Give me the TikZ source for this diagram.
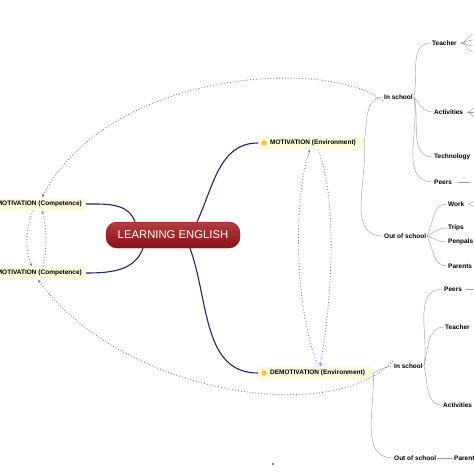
\documentclass[tikz,border=0pt]{standalone}
\usepackage{fontspec}
\setmainfont{Liberation Sans}
\usetikzlibrary{arrows.meta}

\definecolor{rootred}{HTML}{A31C20}
\definecolor{rootdark}{HTML}{8A1014}
\definecolor{branchblue}{HTML}{1E2A60}
\definecolor{relpurple}{HTML}{7C74C0}
\definecolor{topicfill}{HTML}{FDFBDD}
\definecolor{bulbfill}{HTML}{F4C84A}
\definecolor{twiggray}{HTML}{98A0B0}

\begin{document}
\begin{tikzpicture}[
      x=1pt, y=-1pt,
      root/.style={rounded corners=11pt, top color=rootred!85!white, bottom color=rootdark, draw=rootdark,
        text=white, font=\fontsize{11.3}{13}\selectfont, minimum width=134pt, minimum height=26pt, inner sep=0pt},
      topic/.style={fill=topicfill, font=\fontsize{6.5}{7}\selectfont\bfseries, inner xsep=4pt, inner ysep=1pt, minimum height=13pt},
      leaf/.style={font=\fontsize{6.5}{7}\selectfont\bfseries, inner sep=1pt, anchor=west},
      bulb/.style={circle, fill=bulbfill, draw=bulbfill!70!orange, line width=0.3pt, minimum size=5pt, inner sep=0pt},
      branch/.style={branchblue, line width=1.1pt},
      twig/.style={twiggray, line width=0.45pt},
      relation/.style={relpurple, dotted, line width=0.9pt, -{Stealth[length=3.5pt,width=3pt]}}
  ]

  \useasboundingbox (0,0) rectangle (474,474);

  \node [root] (root) at (173,235) {LEARNING ENGLISH}; % root

  \node [topic, anchor=east] (motcomp) at (86,204) {MOTIVATION (Competence)};
  \node [topic, anchor=east] (demotcomp) at (86,273) {DEMOTIVATION (Competence)};
  \node [topic, anchor=west] (motenv) at (258,143) {\hspace*{8pt}MOTIVATION (Environment)\hspace*{4pt}};
  \node [topic, anchor=west] (demotenv) at (258,373) {\hspace*{8pt}DEMOTIVATION (Environment)\hspace*{4pt}};
  \node [bulb] (motbulb) at ([xshift=6pt]motenv.west) {};
  \node [bulb] (demotbulb) at ([xshift=6pt]demotenv.west) {};

  \draw [branch] ([xshift=-38pt]root.north) to[out=110, in=0] (motcomp.east);
  \draw [branch] ([xshift=-30pt]root.south) to[out=-110, in=0] (demotcomp.east);
  \draw [branch] ([xshift=24pt]root.north) to[out=65, in=180] (motenv.west);
  \draw [branch] ([xshift=17pt]root.south) to[out=-70, in=180] (demotenv.west);

  % environment: motivation
  \node [leaf] (insch1) at (383,97) {In school};
  \node [leaf] (teacher1) at (431,43) {Teacher};
  \node [leaf] (activ1) at (433,112) {Activities};
  \node [leaf] (techn1) at (433,157) {Technology};
  \node [leaf] (peers1) at (433,182) {Peers};
  \node [leaf] (outsch1) at (383,236) {Out of school};
  \node [leaf] (work) at (447,204) {Work};
  \node [leaf] (trips) at (447,228) {Trips};
  \node [leaf] (penpals) at (447,242) {Penpals};
  \node [leaf] (parents1) at (447,266) {Parents};

  % environment: demotivation
  \node [leaf] (insch2) at (393,366) {In school};
  \node [leaf] (peers2) at (443,289) {Peers};
  \node [leaf] (teacher2) at (444,327) {Teacher};
  \node [leaf] (activ2) at (442,405) {Activities};
  \node [leaf] (outsch2) at (393,458) {Out of school};
  \node [leaf] (parents2) at (453,458) {Parents};

  \draw [twig] (motenv.east) to[out=80, in=185] (insch1.west);
  \draw [twig] (motenv.east) to[out=-84, in=180] (outsch1.west);
  \draw [twig] (insch1.east) to[out=78, in=180] (teacher1.west);
  \draw [twig] (insch1.east) to[out=-55, in=180] (activ1.west);
  \draw [twig] (insch1.east) to[out=-75, in=180] (techn1.west);
  \draw [twig] (insch1.east) to[out=-80, in=180] (peers1.west);
  \draw [twig] (outsch1.east) to[out=65, in=180] (work.west);
  \draw [twig] (outsch1.east) to[out=30, in=180] (trips.west);
  \draw [twig] (outsch1.east) to[out=-20, in=180] (penpals.west);
  \draw [twig] (outsch1.east) to[out=-65, in=180] (parents1.west);

  \draw [twig] (demotenv.east) to[out=25, in=185] (insch2.west);
  \draw [twig] (demotenv.east) to[out=-86, in=180] (outsch2.west);
  \draw [twig] (insch2.east) to[out=80, in=180] (peers2.west);
  \draw [twig] (insch2.east) to[out=75, in=180] (teacher2.west);
  \draw [twig] (insch2.east) to[out=-75, in=180] (activ2.west);
  \draw [twig] (outsch2.east) -- (parents2.west);

  % stubs running off the page
  \foreach \dy in {-8,-3,3,9}
    \draw [twig] ([xshift=3pt]teacher1.east) to[out=0, in=180] ++(12,\dy);
  \foreach \dy in {-4,0,5}
    \draw [twig] ([xshift=3pt]activ1.east) to[out=0, in=180] ++(8,\dy);
  \foreach \dy in {-3,3}
    \draw [twig] ([xshift=3pt]work.east) to[out=0, in=180] ++(6,\dy);
  \draw [twig] ([xshift=5pt]peers1.east) -- ++(12,0);
  \draw [twig] ([xshift=3pt]peers2.east) -- ++(8,0);

  % relationships
  \draw [relation] ([yshift=-4pt]insch1.west) .. controls (330,58) and (110,68) .. (42,0 |- motcomp.north);
  \draw [relation] ([yshift=5pt]insch2.west) .. controls (330,428) and (120,392) .. (38,0 |- demotcomp.south);
  \draw [relation] (33,0 |- motcomp.south) .. controls (25,230) and (25,250) .. (32,0 |- demotcomp.north);
  \draw [relation] (43,0 |- demotcomp.north) .. controls (47,248) and (47,228) .. (42,0 |- motcomp.south);
  \draw [relation] (318,0 |- motenv.south) .. controls (338,200) and (332,300) .. (320,0 |- demotenv.north);
  \draw [relation] (318,0 |- demotenv.north) .. controls (292,300) and (295,190) .. (310,0 |- motenv.south);

  \node [circle, fill=black, inner sep=0.7pt] (speck) at (273,464) {};

\end{tikzpicture}
\end{document}
